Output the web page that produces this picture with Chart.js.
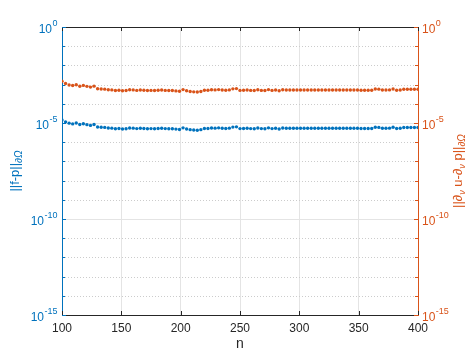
<!DOCTYPE html>
<html>
<head>
<meta charset="utf-8">
<script src="https://cdn.jsdelivr.net/npm/chart.js@4/dist/chart.umd.min.js"></script>
<style>
  html, body { margin: 0; padding: 0; background: #fff; }
  #wrap { width: 474px; height: 355px; position: relative; }
</style>
</head>
<body>
<div id="wrap"><canvas id="chart"></canvas></div>
<script>
// x values (n)
const nValues = [
  100, 103, 106, 109, 112, 115, 118, 121, 124, 127,
  130, 133, 136, 139, 142, 145, 148, 151, 154, 157,
  160, 163, 166, 169, 172, 175, 178, 181, 184, 187,
  190, 193, 196, 199, 202, 205, 208, 211, 214, 217,
  220, 223, 226, 229, 232, 235, 238, 241, 244, 247,
  250, 253, 256, 259, 262, 265, 268, 271, 274, 277,
  280, 283, 286, 289, 292, 295, 298, 301, 304, 307,
  310, 313, 316, 319, 322, 325, 328, 331, 334, 337,
  340, 343, 346, 349, 352, 355, 358, 361, 364, 367,
  370, 373, 376, 379, 382, 385, 388, 391, 394, 397,
  400
];

// ||f-p|| (left axis)
const errF = [
  1.45e-5, 1.15e-5, 9.8e-6, 9.0e-6, 1.0e-5, 8.3e-6, 9.2e-6, 8.2e-6, 7.5e-6, 8.4e-6,
  6.2e-6, 6.0e-6, 5.9e-6, 5.5e-6, 5.4e-6, 5.0e-6, 5.2e-6, 4.9e-6, 5.0e-6, 5.5e-6,
  5.4e-6, 5.1e-6, 5.3e-6, 5.2e-6, 5.0e-6, 5.1e-6, 5.0e-6, 5.2e-6, 5.3e-6, 5.1e-6,
  5.0e-6, 5.0e-6, 4.8e-6, 4.6e-6, 5.6e-6, 4.9e-6, 4.5e-6, 4.3e-6, 4.2e-6, 4.5e-6,
  5.2e-6, 5.2e-6, 5.5e-6, 5.4e-6, 5.6e-6, 5.3e-6, 5.2e-6, 5.4e-6, 6.1e-6, 6.3e-6,
  5.1e-6, 5.2e-6, 5.3e-6, 5.1e-6, 5.0e-6, 5.5e-6, 5.1e-6, 5.0e-6, 5.6e-6, 5.1e-6,
  5.3e-6, 4.9e-6, 5.5e-6, 5.3e-6, 5.3e-6, 5.3e-6, 5.3e-6, 5.3e-6, 5.3e-6, 5.3e-6,
  5.3e-6, 5.3e-6, 5.3e-6, 5.3e-6, 5.3e-6, 5.3e-6, 5.3e-6, 5.3e-6, 5.3e-6, 5.3e-6,
  5.3e-6, 5.3e-6, 5.3e-6, 5.3e-6, 5.2e-6, 5.2e-6, 5.2e-6, 5.2e-6, 6.0e-6, 5.9e-6,
  5.3e-6, 5.3e-6, 5.4e-6, 6.0e-6, 5.2e-6, 5.3e-6, 5.8e-6, 5.8e-6, 5.8e-6, 5.8e-6,
  5.8e-6
];

// ||d_nu u - d_nu p|| (right axis)
const errDu = [
  1.50e-3, 1.15e-3, 9.6e-4, 8.9e-4, 9.9e-4, 8.2e-4, 9.1e-4, 8.1e-4, 7.4e-4, 8.3e-4,
  6.1e-4, 5.9e-4, 5.8e-4, 5.4e-4, 5.3e-4, 4.9e-4, 5.1e-4, 4.8e-4, 4.9e-4, 5.4e-4,
  5.3e-4, 5.0e-4, 5.2e-4, 5.1e-4, 4.9e-4, 5.0e-4, 4.9e-4, 5.1e-4, 5.2e-4, 5.0e-4,
  4.9e-4, 4.9e-4, 4.7e-4, 4.5e-4, 5.5e-4, 4.8e-4, 4.4e-4, 4.2e-4, 4.1e-4, 4.4e-4,
  5.1e-4, 5.1e-4, 5.4e-4, 5.3e-4, 5.5e-4, 5.2e-4, 5.1e-4, 5.3e-4, 6.0e-4, 6.2e-4,
  5.0e-4, 5.1e-4, 5.2e-4, 5.0e-4, 4.9e-4, 5.4e-4, 5.0e-4, 4.9e-4, 5.5e-4, 5.0e-4,
  5.2e-4, 4.8e-4, 5.4e-4, 5.2e-4, 5.2e-4, 5.2e-4, 5.2e-4, 5.2e-4, 5.2e-4, 5.2e-4,
  5.2e-4, 5.2e-4, 5.2e-4, 5.2e-4, 5.2e-4, 5.2e-4, 5.2e-4, 5.2e-4, 5.2e-4, 5.2e-4,
  5.2e-4, 5.2e-4, 5.2e-4, 5.2e-4, 5.1e-4, 5.1e-4, 5.1e-4, 5.1e-4, 5.9e-4, 5.8e-4,
  5.2e-4, 5.2e-4, 5.3e-4, 5.9e-4, 5.1e-4, 5.2e-4, 5.7e-4, 5.7e-4, 5.7e-4, 5.7e-4,
  5.7e-4
];

// y axis decades and the labelled ones
const yDecades = [0, -1, -2, -3, -4, -5, -6, -7, -8, -9, -10, -11, -12, -13, -14, -15];
const yLabelled = [0, -5, -10, -15];
const xTicks = [100, 150, 200, 250, 300, 350, 400];

const BLUE = '#0072BD';
const ORANGE = '#D95319';
const DARK = '#262626';
const FONT = '"Liberation Sans", Arial, sans-serif';

function decadeTicks(scale) {
  scale.ticks = yDecades.map(e => ({ value: Math.pow(10, e) }));
}

function yAxis(position, color, width) {
  return {
    type: 'logarithmic',
    position: position,
    min: 1e-15,
    max: 1,
    afterBuildTicks: decadeTicks,
    afterFit: s => { s.width = width; },
    border: { color: color, width: 1 },
    grid: {
      drawTicks: false,
      drawOnChartArea: position === 'left',
      color: c => yLabelled.includes(Math.round(Math.log10(c.tick.value))) ? '#e4e4e4' : 'rgba(0,0,0,0)'
    },
    ticks: { display: false }
  };
}

// "10" with a raised exponent, drawn at the scale's pixel for the value
function drawPowLabel(ctx, e, py, x, align, color) {
  const base = '10';
  const exp = String(e);
  ctx.fillStyle = color;
  ctx.textBaseline = 'middle';
  ctx.textAlign = 'left';
  ctx.font = '12px ' + FONT;
  const wb = ctx.measureText(base).width;
  ctx.font = '9px ' + FONT;
  const we = ctx.measureText(exp).width;
  const x0 = align === 'right' ? x - wb - we : x;
  ctx.font = '12px ' + FONT;
  ctx.fillText(base, x0, py + 2.5);
  ctx.font = '9px ' + FONT;
  ctx.fillText(exp, x0 + wb + 0.5, py - 3);
}

// dotted minor grid, inward tick marks, top border, y tick labels and y titles
const decor = {
  id: 'decor',
  beforeDatasetsDraw(chart) {
    const { ctx, chartArea: a, scales } = chart;
    ctx.save();
    ctx.lineWidth = 1;
    ctx.setLineDash([1, 2]);
    ctx.strokeStyle = '#cccccc';
    yDecades.forEach(e => {
      if (yLabelled.includes(e)) return;
      const py = Math.round(scales.y.getPixelForValue(Math.pow(10, e))) + 0.5;
      ctx.beginPath();
      ctx.moveTo(a.left, py);
      ctx.lineTo(a.right, py);
      ctx.stroke();
    });
    ctx.restore();
  },
  afterDraw(chart) {
    const { ctx, chartArea: a, scales } = chart;
    ctx.save();
    ctx.lineWidth = 1;
    // top border
    ctx.strokeStyle = DARK;
    ctx.beginPath();
    ctx.moveTo(a.left, a.top + 0.5);
    ctx.lineTo(a.right, a.top + 0.5);
    ctx.stroke();
    // x ticks, inward, bottom and top
    xTicks.forEach(v => {
      const px = Math.round(scales.x.getPixelForValue(v)) + 0.5;
      ctx.beginPath();
      ctx.moveTo(px, a.bottom);
      ctx.lineTo(px, a.bottom - 4);
      ctx.moveTo(px, a.top);
      ctx.lineTo(px, a.top + 4);
      ctx.stroke();
    });
    // y ticks, inward, and labels
    yDecades.forEach(e => {
      const len = yLabelled.includes(e) ? 4 : 3;
      const pyRaw = scales.y.getPixelForValue(Math.pow(10, e));
      const py = Math.round(pyRaw) + 0.5;
      ctx.strokeStyle = BLUE;
      ctx.beginPath();
      ctx.moveTo(a.left, py);
      ctx.lineTo(a.left + len, py);
      ctx.stroke();
      ctx.strokeStyle = ORANGE;
      ctx.beginPath();
      ctx.moveTo(a.right, py);
      ctx.lineTo(a.right - len, py);
      ctx.stroke();
      if (yLabelled.includes(e)) {
        drawPowLabel(ctx, e, pyRaw, a.left - 5, 'right', BLUE);
        drawPowLabel(ctx, e, scales.y2.getPixelForValue(Math.pow(10, e)), a.right + 4, 'left', ORANGE);
      }
    });
    // y titles (rotated, with subscripts), centred on the plot height
    const midY = (a.top + a.bottom) / 2;
    drawTitle(ctx, 15, midY, BLUE, [['||f-p||', 13, 0], ['∂Ω', 10, 4, true]]);
    drawTitle(ctx, 458, midY, ORANGE, [['||∂', 13, 0], ['ν', 9, 4, true], [' u-∂', 13, 0], ['ν', 9, 4, true], [' p||', 13, 0], ['∂Ω', 10, 4, true]]);
    ctx.restore();
  }
};

function drawTitle(ctx, x, y, color, parts) {
  ctx.save();
  ctx.fillStyle = color;
  ctx.textBaseline = 'middle';
  ctx.textAlign = 'left';
  const fontOf = p => (p[3] ? 'italic ' : '') + p[1] + 'px ' + FONT;
  let total = 0;
  parts.forEach(p => {
    ctx.font = fontOf(p);
    total += ctx.measureText(p[0]).width;
  });
  ctx.translate(x, y);
  ctx.rotate(-Math.PI / 2);
  let cx = -total / 2;
  parts.forEach(p => {
    ctx.font = fontOf(p);
    ctx.fillText(p[0], cx, p[2]);
    cx += ctx.measureText(p[0]).width;
  });
  ctx.restore();
}

const ctx = document.getElementById('chart').getContext('2d');
const chart = new Chart(ctx, {
  type: 'scatter',
  data: {
    datasets: [
      {
        label: '||f-p||',
        data: nValues.map((n, i) => ({ x: n, y: errF[i] })),
        yAxisID: 'y',
        backgroundColor: BLUE,
        borderColor: BLUE,
        pointRadius: 1.7,
        pointBorderWidth: 0
      },
      {
        label: '||∂ν u-∂ν p||',
        data: nValues.map((n, i) => ({ x: n, y: errDu[i] })),
        yAxisID: 'y2',
        backgroundColor: ORANGE,
        borderColor: ORANGE,
        pointRadius: 1.7,
        pointBorderWidth: 0
      }
    ]
  },
  options: {
    responsive: true,
    maintainAspectRatio: false,
    animation: false,
    layout: { padding: { top: 27, left: 0, right: 0, bottom: 0 } },
    plugins: {
      legend: { display: false },
      tooltip: { enabled: false }
    },
    scales: {
      x: {
        type: 'linear',
        min: 100,
        max: 400,
        afterBuildTicks: s => { s.ticks = xTicks.map(v => ({ value: v })); },
        afterFit: s => { s.height = 40; },
        border: { color: DARK, width: 1 },
        grid: { drawTicks: false, color: '#e4e4e4' },
        ticks: {
          autoSkip: false,
          maxRotation: 0,
          color: DARK,
          padding: 6,
          font: { family: FONT, size: 12 }
        },
        title: {
          display: true,
          text: 'n',
          color: DARK,
          padding: { top: 0, bottom: 2 },
          font: { family: FONT, size: 14 }
        }
      },
      y: yAxis('left', BLUE, 62),
      y2: yAxis('right', ORANGE, 56)
    }
  },
  plugins: [decor]
});
</script>
</body>
</html>
